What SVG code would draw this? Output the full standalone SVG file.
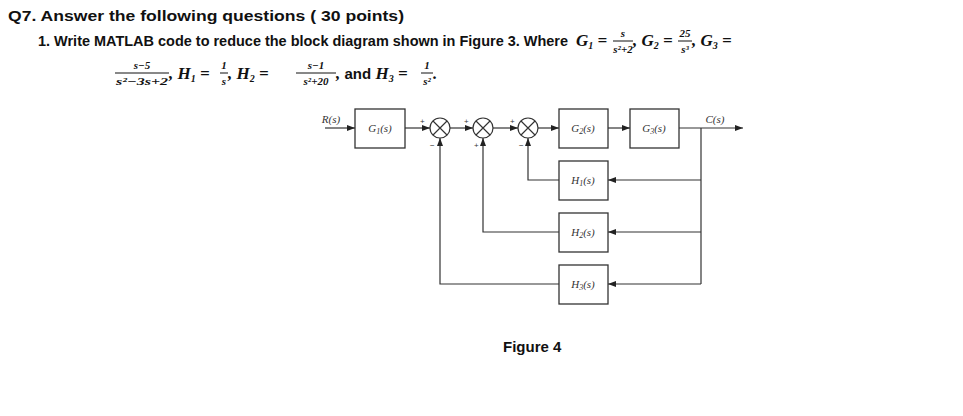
<svg xmlns="http://www.w3.org/2000/svg" width="963" height="416" viewBox="0 0 963 416">
<defs><marker id="a" markerWidth="8" markerHeight="6" refX="8" refY="3" orient="auto" markerUnits="userSpaceOnUse"><path d="M0,0L8,3L0,6z" fill="#222"/></marker></defs>
<style>
.t{font-family:"Liberation Sans",sans-serif;font-weight:bold;font-size:15px;fill:#111}
.m{font-family:"Liberation Serif",serif;font-weight:bold;font-style:italic;font-size:17px;fill:#111}
.f{font-family:"Liberation Serif",serif;font-weight:bold;font-style:italic;font-size:11px;fill:#111;text-anchor:middle}
.b{fill:#fff;stroke:#333;stroke-width:1.3}
.l{fill:none;stroke:#333;stroke-width:1.2}
.lb{font-family:"Liberation Serif",serif;font-style:italic;font-size:11px;fill:#333;text-anchor:middle}
.s{font-family:"Liberation Sans",sans-serif;font-size:8px;fill:#333}
</style>
<rect width="963" height="416" fill="#fff"/>
<text class="t" x="8" y="21" textLength="396" lengthAdjust="spacingAndGlyphs">Q7. Answer the following questions ( 30 points)</text>
<text class="t" x="38" y="46" textLength="530" lengthAdjust="spacingAndGlyphs">1.   Write MATLAB code to reduce the block diagram shown in Figure 3. Where</text>
<text class="m" x="576" y="46">G<tspan font-size="10" dy="3">1</tspan><tspan dy="-3"> =</tspan></text>
<text class="f" x="623" y="37">s</text><line x1="613" y1="41" x2="633" y2="41" stroke="#111"/><text class="f" x="623" y="53">s²+2</text>
<text class="m" x="633" y="46">, G<tspan font-size="10" dy="3">2</tspan><tspan dy="-3"> =</tspan></text>
<text class="f" x="685" y="37">25</text><line x1="678" y1="41" x2="692" y2="41" stroke="#111"/><text class="f" x="685" y="53">s³</text>
<text class="m" x="692" y="46">, G<tspan font-size="10" dy="3">3</tspan><tspan dy="-3"> =</tspan></text>
<text class="f" x="142" y="69">s−5</text><line x1="115" y1="73" x2="169" y2="73" stroke="#111"/><text class="f" x="142" y="85" textLength="52" lengthAdjust="spacingAndGlyphs">s²−3s+2</text>
<text class="m" x="169" y="79">, H<tspan font-size="10" dy="3">1</tspan><tspan dy="-3"> =</tspan></text>
<text class="f" x="224" y="69">1</text><line x1="220" y1="73" x2="228" y2="73" stroke="#111"/><text class="f" x="224" y="85">s</text>
<text class="m" x="228" y="79">, H<tspan font-size="10" dy="3">2</tspan><tspan dy="-3"> =</tspan></text>
<text class="f" x="316" y="69">s−1</text><line x1="296" y1="73" x2="336" y2="73" stroke="#111"/><text class="f" x="316" y="85">s²+20</text>
<text class="m" x="336" y="79">, <tspan font-family="Liberation Sans" font-style="normal" font-size="15">and</tspan> H<tspan font-size="10" dy="3">3</tspan><tspan dy="-3"> =</tspan></text>
<text class="f" x="427" y="69">1</text><line x1="421" y1="73" x2="433" y2="73" stroke="#111"/><text class="f" x="427" y="85">s²</text>
<text class="m" x="433" y="79">.</text>
<g id="connectors" class="l">
<path d="M325,128H355" marker-end="url(#a)"/>
<path d="M405,128H430" marker-end="url(#a)"/>
<path d="M450,128H473" marker-end="url(#a)"/>
<path d="M493,128H518" marker-end="url(#a)"/>
<path d="M538,128H559" marker-end="url(#a)"/>
<path d="M608,128H630" marker-end="url(#a)"/>
<path d="M679,128H743" marker-end="url(#a)"/>
<path d="M701,128V284"/>
<path d="M701,180H608" marker-end="url(#a)"/>
<path d="M701,232H608" marker-end="url(#a)"/>
<path d="M701,284H608" marker-end="url(#a)"/>
<path d="M559,180H528V138" marker-end="url(#a)"/>
<path d="M559,232H483V138" marker-end="url(#a)"/>
<path d="M559,284H440V138" marker-end="url(#a)"/>
</g>
<g id="G1"><rect class="b" x="355" y="109" width="50" height="39"/><text class="lb" x="380" y="132">G<tspan font-size="8" dy="2">1</tspan><tspan dy="-2">(s)</tspan></text></g>
<g id="G2"><rect class="b" x="559" y="109" width="49" height="39"/><text class="lb" x="583" y="132">G<tspan font-size="8" dy="2">2</tspan><tspan dy="-2">(s)</tspan></text></g>
<g id="G3"><rect class="b" x="630" y="109" width="49" height="39"/><text class="lb" x="654" y="132">G<tspan font-size="8" dy="2">3</tspan><tspan dy="-2">(s)</tspan></text></g>
<g id="H1"><rect class="b" x="559" y="161" width="49" height="39"/><text class="lb" x="583" y="184">H<tspan font-size="8" dy="2">1</tspan><tspan dy="-2">(s)</tspan></text></g>
<g id="H2"><rect class="b" x="559" y="213" width="49" height="39"/><text class="lb" x="583" y="236">H<tspan font-size="8" dy="2">2</tspan><tspan dy="-2">(s)</tspan></text></g>
<g id="H3"><rect class="b" x="559" y="265" width="49" height="39"/><text class="lb" x="583" y="288">H<tspan font-size="8" dy="2">3</tspan><tspan dy="-2">(s)</tspan></text></g>
<g id="S1" class="l"><circle cx="440" cy="128" r="10" fill="#fff"/><path d="M433,121L447,135M447,121L433,135"/></g>
<g id="S2" class="l"><circle cx="483" cy="128" r="10" fill="#fff"/><path d="M476,121L490,135M490,121L476,135"/></g>
<g id="S3" class="l"><circle cx="528" cy="128" r="10" fill="#fff"/><path d="M521,121L535,135M535,121L521,135"/></g>
<text class="s" x="420" y="124">+</text><text class="s" x="430" y="148">−</text>
<text class="s" x="464" y="124">+</text><text class="s" x="474" y="148">+</text>
<text class="s" x="510" y="124">+</text><text class="s" x="519" y="148">−</text>
<text class="lb" x="331" y="123">R(s)</text>
<text class="lb" x="715" y="123">C(s)</text>
<text class="t" x="503" y="352">Figure 4</text>
</svg>
